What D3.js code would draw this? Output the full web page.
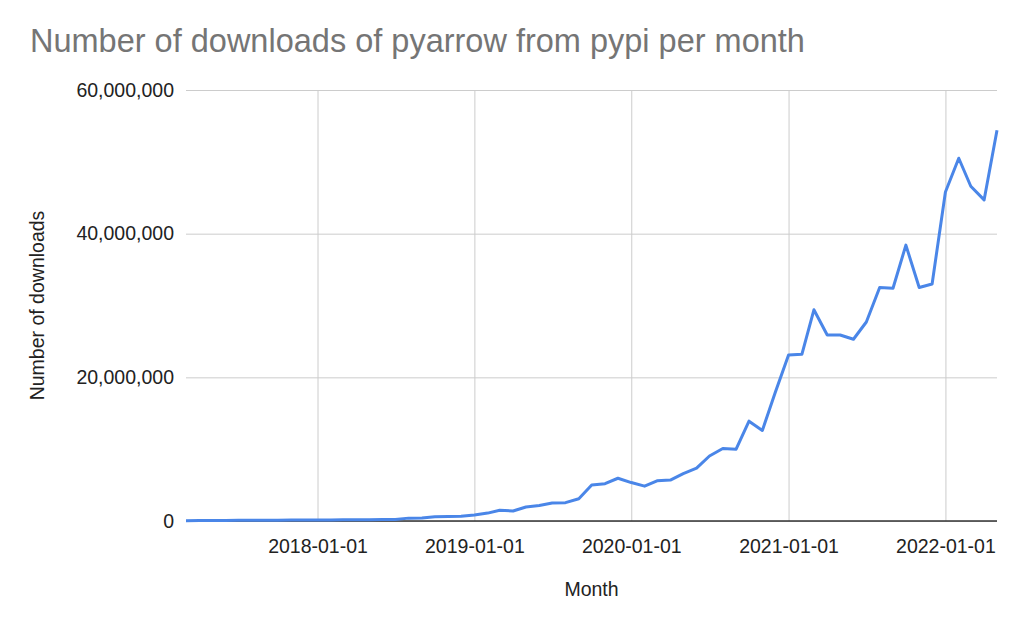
<!DOCTYPE html>
<html>
<head>
<meta charset="utf-8">
<script src="https://cdn.jsdelivr.net/npm/d3@7"></script>
<style>
  body { margin: 0; background: #fff; }
  text { font-family: 'Liberation Sans', Arial, sans-serif; }
</style>
</head>
<body>
<div id="chart"></div>
<script>
// monthly downloads (millions), first month = 2017-03
const startMonth = '2017-03-01';
const downloads = [
  0.05, 0.06, 0.07, 0.08, 0.09, 0.10, 0.10, 0.12, 0.13, 0.15,
  0.15, 0.15, 0.17, 0.17, 0.18, 0.20, 0.22, 0.40, 0.42, 0.60, 0.62, 0.65,
  0.85, 1.10, 1.50, 1.40, 1.95, 2.15, 2.50, 2.55, 3.10, 5.00, 5.20, 5.95,
  5.35, 4.85, 5.60, 5.70, 6.60, 7.35, 9.05, 10.1, 10.0, 13.9, 12.6, 17.9,
  23.1, 23.2, 29.4, 25.9, 25.9, 25.3, 27.7, 32.5, 32.4, 38.4, 32.5, 33.0,
  45.8, 50.5, 46.6, 44.7, 54.4
];
const xTicks = ['2018-01-01', '2019-01-01', '2020-01-01', '2021-01-01', '2022-01-01'];
const yTicks = [0, 20000000, 40000000, 60000000];

const parseDate = d3.timeParse('%Y-%m-%d');
const data = downloads.map((v, i) => ({
  date: d3.timeMonth.offset(parseDate(startMonth), i),
  value: v * 1e6,
}));

const W = 1024, H = 629;
const margin = { top: 90, right: 27, bottom: 108, left: 186 };
const width = W - margin.left - margin.right,
  height = H - margin.top - margin.bottom;

const svg = d3.select('#chart').append('svg')
  .attr('width', W)
  .attr('height', H);

// title
svg.append('text')
  .attr('x', 30)
  .attr('y', 52)
  .attr('fill', '#757575')
  .style('font-size', '32.5px')
  .text('Number of downloads of pyarrow from pypi per month');

const g = svg.append('g')
  .attr('transform', 'translate(' + margin.left + ',' + margin.top + ')');

const x = d3.scaleTime()
  .domain(d3.extent(data, d => d.date))
  .range([0, width]);
const y = d3.scaleLinear()
  .domain([0, 60000000])
  .range([height, 0]);

// horizontal grid + y labels
g.append('g')
  .call(d3.axisLeft(y).tickValues(yTicks).tickSize(-width).tickPadding(12)
    .tickFormat(d3.format(',')))
  .call(a => a.select('.domain').remove())
  .call(a => a.selectAll('line').attr('stroke', '#cccccc'))
  .call(a => a.selectAll('text').attr('fill', '#222').style('font-size', '19.5px'));

// vertical grid + x labels
g.append('g')
  .attr('transform', 'translate(0,' + height + ')')
  .call(d3.axisBottom(x).tickValues(xTicks.map(parseDate)).tickSize(-height).tickPadding(18)
    .tickFormat(d3.timeFormat('%Y-%m-%d')))
  .call(a => a.select('.domain').remove())
  .call(a => a.selectAll('line').attr('stroke', '#cccccc'))
  .call(a => a.selectAll('text').attr('fill', '#222').style('font-size', '19.5px'));

// baseline
g.append('line')
  .attr('x1', 0).attr('x2', width)
  .attr('y1', y(0)).attr('y2', y(0))
  .attr('stroke', '#333').attr('stroke-width', 1.5);

// line
const line = d3.line()
  .x(d => x(d.date))
  .y(d => y(d.value));
g.append('path')
  .datum(data)
  .attr('fill', 'none')
  .attr('stroke', '#4a86e8')
  .attr('stroke-width', 3)
  .attr('stroke-linejoin', 'round')
  .attr('d', line);

// axis titles
svg.append('text')
  .attr('x', margin.left + width / 2)
  .attr('y', 596)
  .attr('text-anchor', 'middle')
  .attr('fill', '#222')
  .style('font-size', '19.5px')
  .text('Month');

svg.append('text')
  .attr('transform', 'translate(44,' + (margin.top + height / 2) + ') rotate(-90)')
  .attr('text-anchor', 'middle')
  .attr('fill', '#222')
  .style('font-size', '19.5px')
  .text('Number of downloads');
</script>
</body>
</html>
